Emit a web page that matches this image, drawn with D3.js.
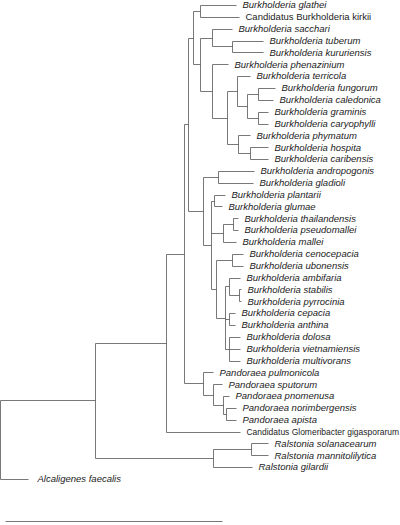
<!DOCTYPE html>
<html>
<head>
<meta charset="utf-8">
<script src="https://cdn.jsdelivr.net/npm/d3@7"></script>
<style>
  body { margin: 0; background: #fff; }
  text { font-family: "Liberation Sans", Arial, sans-serif; font-size: 9.5px; fill: #222; }
</style>
</head>
<body>
<div id="chart"></div>
<script>
// leaf order, top to bottom
const leafNames = [
  "Burkholderia glathei", "Candidatus Burkholderia kirkii", "Burkholderia sacchari",
  "Burkholderia tuberum", "Burkholderia kururiensis", "Burkholderia phenazinium",
  "Burkholderia terricola", "Burkholderia fungorum", "Burkholderia caledonica",
  "Burkholderia graminis", "Burkholderia caryophylli", "Burkholderia phymatum",
  "Burkholderia hospita", "Burkholderia caribensis", "Burkholderia andropogonis",
  "Burkholderia gladioli", "Burkholderia plantarii", "Burkholderia glumae",
  "Burkholderia thailandensis", "Burkholderia pseudomallei", "Burkholderia mallei",
  "Burkholderia cenocepacia", "Burkholderia ubonensis", "Burkholderia ambifaria",
  "Burkholderia stabilis", "Burkholderia pyrrocinia", "Burkholderia cepacia",
  "Burkholderia anthina", "Burkholderia dolosa", "Burkholderia vietnamiensis",
  "Burkholderia multivorans", "Pandoraea pulmonicola", "Pandoraea sputorum",
  "Pandoraea pnomenusa", "Pandoraea norimbergensis", "Pandoraea apista",
  "Candidatus Glomeribacter gigasporarum", "Ralstonia solanacearum",
  "Ralstonia mannitolilytica", "Ralstonia gilardii", "Alcaligenes faecalis"
];

// cumulative distance from root to each tip (same order as leafNames)
const leafDepths = [
  236, 239, 232, 263, 263, 228, 250, 275, 273, 268, 268, 250, 268, 268,
  254, 253, 225, 222, 238, 238, 236, 243, 243, 240, 241, 241, 235, 235,
  240, 240, 240, 213, 222, 229, 236, 236, 240, 268, 268, 252, 28
];

// topology: [node depth, children] ; a number child = leaf index
const topology = [0, [
  [95, [
    [166, [
      [184, [
        [188, [
          [193, [
            [200, [0, 1]],
            [200, [
              [212, [2, [232, [3, 4]]]],
              [212, [5,
                [227, [
                  [237, [6, [247, [[258, [7, 8]], [258, [9, 10]]]]]],
                  [238, [11, [250, [12, 13]]]]
                ]]
              ]]
            ]]
          ]],
          [203, [
            [218, [14, 15]],
            [211, [
              [214, [16, 17]],
              [223, [[233, [18, 19]], 20]],
              [216, [
                [232, [21, 22]],
                [225, [
                  [229, [23, [239, [24, 25]]]],
                  [229, [26, 27]],
                  [229, [28, 29, 30]]
                ]]
              ]]
            ]]
          ]]
        ]],
        [203, [31, [213, [32, [223, [33, [226, [34, 35]]]]]]]]
      ]],
      36
    ]],
    [213, [[251, [37, 38]], 39]]
  ]],
  40
]];

// scale bar extent in distance units
const scaleBar = [5, 222];

function build(n) {
  if (typeof n === "number") return { leaf: n, name: leafNames[n], depth: leafDepths[n] };
  return { depth: n[0], children: n[1].map(build) };
}

const width = 400, height = 525;
const x = d3.scaleLinear().domain([0, 280]).range([0.5, 280.5]);
const y = d3.scaleLinear().domain([0, leafNames.length - 1]).range([5, 479]);

const root = d3.hierarchy(build(topology));
root.eachAfter(d => {
  if (d.data.leaf !== undefined) d.py = y(d.data.leaf);
  else d.py = (d.children[0].py + d.children[d.children.length - 1].py) / 2;
  d.px = x(d.data.depth);
});

const svg = d3.select("#chart").append("svg")
  .attr("width", width).attr("height", height);

const g = svg.append("g")
  .attr("stroke", "#555").attr("stroke-width", 0.8).attr("fill", "none");

// horizontal branches
root.descendants().filter(d => d.parent).forEach(d => {
  g.append("line")
    .attr("x1", d.parent.px).attr("x2", d.px)
    .attr("y1", Math.round(d.py) + 0.5).attr("y2", Math.round(d.py) + 0.5);
});
// vertical connectors
root.descendants().filter(d => d.children).forEach(d => {
  g.append("line")
    .attr("x1", d.px).attr("x2", d.px)
    .attr("y1", Math.round(d.children[0].py) + 0.5)
    .attr("y2", Math.round(d.children[d.children.length - 1].py) + 0.5);
});

// tip labels
root.leaves().forEach(d => {
  const t = svg.append("text")
    .attr("x", d.px + (d.data.leaf === 40 ? 9 : 6))
    .attr("y", d.py)
    .attr("dy", "0.35em");
  if (d.data.name.startsWith("Candidatus")) {
    t.text(d.data.name);
  } else {
    t.style("font-style", "italic").text(d.data.name);
  }
  // keep the long label inside the right edge
  const w = t.node().getComputedTextLength();
  const room = width - 1 - (d.px + 6);
  if (w > room) t.attr("textLength", room).attr("lengthAdjust", "spacingAndGlyphs");
});

// scale bar
svg.append("line")
  .attr("x1", x(scaleBar[0])).attr("x2", x(scaleBar[1]))
  .attr("y1", 521.5).attr("y2", 521.5)
  .attr("stroke", "#555").attr("stroke-width", 0.8);
</script>
</body>
</html>
